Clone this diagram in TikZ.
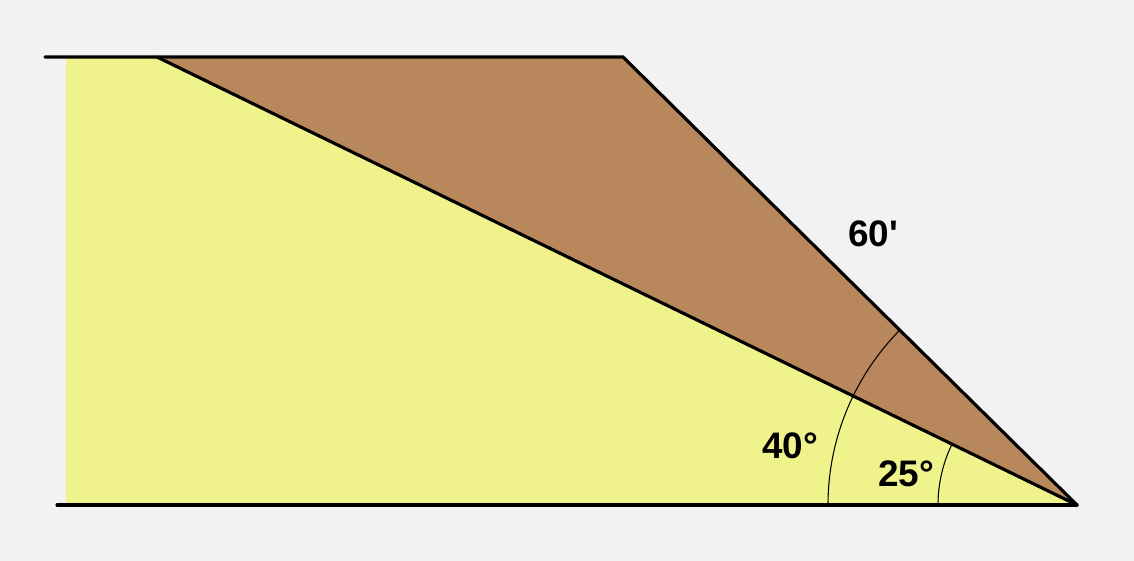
\documentclass[tikz,border=0pt]{standalone}
\usepackage{fontspec}
\setmainfont{Liberation Sans}
\definecolor{bgcol}{HTML}{F2F2F2}
\definecolor{soilcol}{HTML}{F0F28C}
\definecolor{brownfill}{HTML}{B8875B}
\begin{document}
\begin{tikzpicture}[x=0.02cm,y=-0.02cm,
  edge/.style={line width=1.8pt,line cap=round},
  arcline/.style={line width=0.6pt},
  lbl/.style={font=\fontsize{21}{24}\selectfont\bfseries,inner sep=0pt}]
\fill[bgcol] (0,0) rectangle (1134,561);
\useasboundingbox (0,0) rectangle (1134,561);
\coordinate (TL) at (45,57);
\coordinate (YL) at (66,57);
\coordinate (A) at (157,57);
\coordinate (B) at (623,57);
\coordinate (C) at (1077,505);
\coordinate (BL) at (57,505);
\coordinate (YB) at (66,505);
% fills
\fill[soilcol] (YL) -- (A) -- (C) -- (YB) -- cycle;
\fill[brownfill] (A) -- (B) -- (C) -- cycle;
% arcs
\draw[arcline] (828,505) arc[start angle=180,end angle=224.6,radius=249];
\draw[arcline] (938,505) arc[start angle=180,end angle=206.0,radius=139];
% lines
\draw[edge] (TL) -- (B) -- (C);
\draw[edge] (A) -- (C);
\draw[edge] (BL) -- (C);
% labels
\node[lbl] (l60) at (873,234) {60\textquotesingle};
\node[lbl] (l40) at (790,446) {40°};
\node[lbl] (l25) at (906,474) {25°};
\end{tikzpicture}
\end{document}
